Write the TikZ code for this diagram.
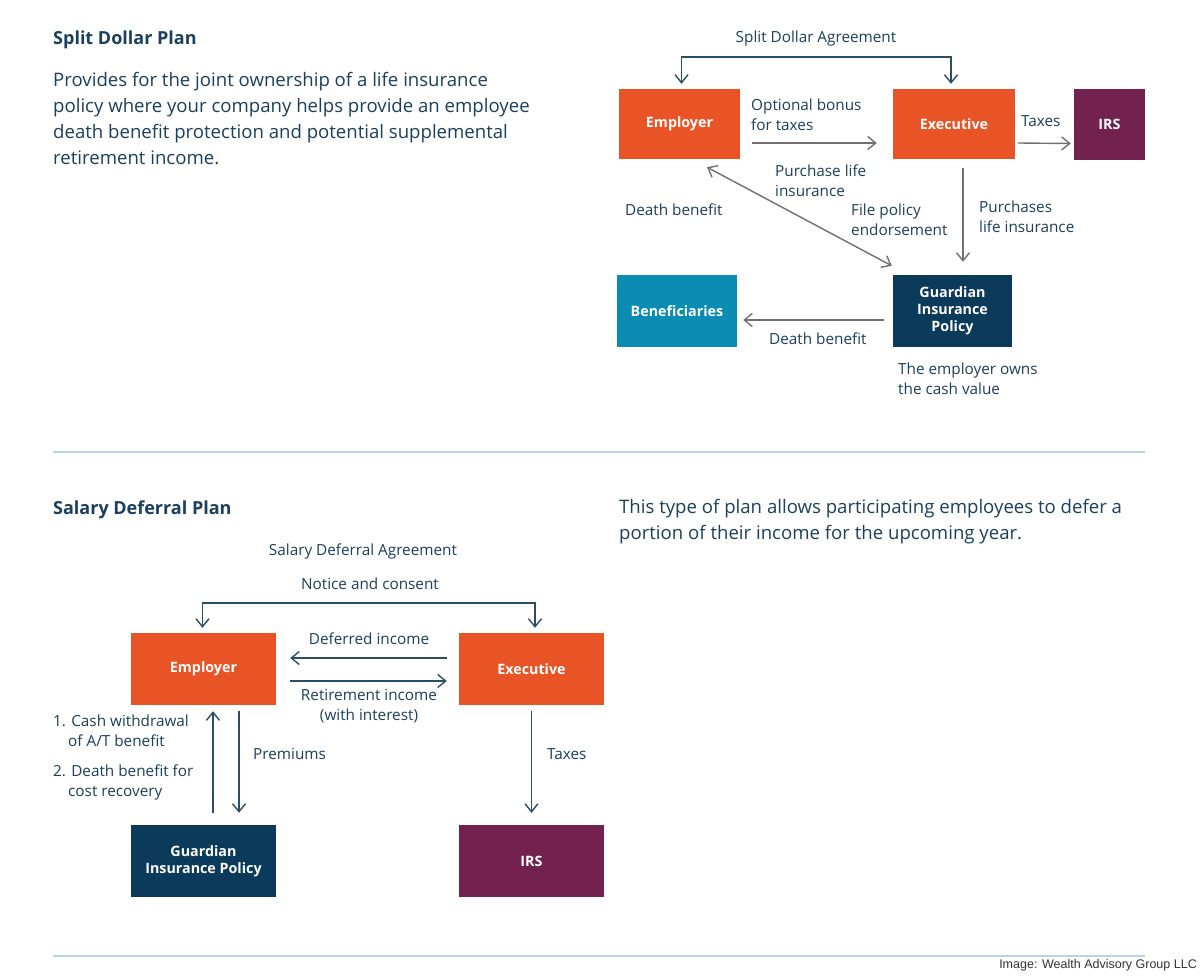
\documentclass[tikz,border=0pt]{standalone}
\usepackage{fontspec}
\setmainfont{Open Sans}
\newfontfamily\footfont{Liberation Sans}
\usetikzlibrary{arrows.meta,calc}
\definecolor{txt}{HTML}{1B3F5E}
\definecolor{orangebox}{HTML}{E85426}
\definecolor{purplebox}{HTML}{73224F}
\definecolor{tealbox}{HTML}{0A8CB3}
\definecolor{navybox}{HTML}{0C3A5B}
\definecolor{greyarrow}{HTML}{707070}
\definecolor{navyarrow}{HTML}{2B4E66}
\definecolor{sepline}{HTML}{B4D5E5}
\definecolor{foot}{HTML}{333333}
\begin{document}
\begin{tikzpicture}[x=1pt,y=-1pt,
  box/.style={rectangle, inner sep=0pt, align=center, text=white, font=\bfseries\fontsize{14.3}{17}\selectfont},
  lbl/.style={inner sep=0pt, align=left, text=txt, font=\fontsize{15.3}{20}\selectfont},
  para/.style={inner sep=0pt, align=left, text=txt, font=\fontsize{18.6}{26}\selectfont},
  ttl/.style={inner sep=0pt, anchor=west, text=txt, font=\bfseries\fontsize{18}{20}\selectfont},
  barb/.tip={Straight Barb[length=8pt,width=13pt]},
  garr/.style={draw=greyarrow, line width=1.4pt, -barb},
  garr2/.style={draw=greyarrow, line width=1.4pt, barb-barb},
  narr/.style={draw=navyarrow, line width=1.4pt, -barb},
  narr2/.style={draw=navyarrow, line width=1.4pt, barb-barb},
  sep/.style={draw=sepline, line width=2pt}]
\useasboundingbox (0,0) rectangle (1200,977);
\fill[white] (0,0) rectangle (1200,977);

% ---------- Split Dollar Plan ----------
\node[ttl] (t1) at (53,40) {Split Dollar Plan};
\node[para, anchor=north west] (p1) at (53,72) {Provides for the joint ownership of a life insurance\\policy where your company helps provide an employee\\death benefit protection and potential supplemental\\retirement income.};

\node[box, fill=orangebox, minimum width=121pt, minimum height=70pt] (emp) at (679.5,124) {Employer};
\node[box, fill=orangebox, minimum width=122pt, minimum height=70pt] (exe) at (954,124) {Executive};
\node[box, fill=purplebox, minimum width=71pt, minimum height=71pt] (irs) at (1109.5,124.5) {IRS};
\node[box, fill=tealbox, minimum width=120pt, minimum height=72pt] (ben) at (677,311) {Beneficiaries};
\node[box, fill=navybox, minimum width=119pt, minimum height=72pt] (gua) at (952.5,311) {Guardian\\Insurance\\Policy};

\node[lbl] (sda) at (816,39) {Split Dollar Agreement};
\draw[narr2] ($(emp.north)+(2,-5)$) |- ($(exe.north)+(-3,-32)$) -- ($(exe.north)+(-3,-5)$);

\draw[garr] ($(emp.east)+(12,19)$) -- ($(exe.west)+(-16,19)$);
\node[lbl, anchor=west] (ob) at (751,115) {Optional bonus\\for taxes};
\draw[garr] ($(exe.east)+(3,19)$) -- ($(irs.west)+(-3,19)$);
\node[lbl, anchor=west] (tx) at (1021,121) {Taxes};
\draw[garr2] ($(emp.south)+(27.5,8)$) -- ($(gua.north west)+(-1,-9)$);
\node[lbl, anchor=west] (pl) at (775,181) {Purchase life\\insurance};
\node[lbl, anchor=west] (db1) at (625,210) {Death benefit};
\node[lbl, anchor=west] (fp) at (851,220) {File policy\\endorsement};
\draw[garr] ($(exe.south)+(9,9)$) -- ($(gua.north)+(10.5,-13)$);
\node[lbl, anchor=west] (pli) at (979,217) {Purchases\\life insurance};
\draw[garr] ($(gua.west)+(-9,9)$) -- ($(ben.east)+(6,9)$);
\node[lbl, anchor=west] (db2) at (769,339) {Death benefit};
\node[lbl, anchor=west] (own) at (898,379) {The employer owns\\the cash value};

\draw[sep] (53,452) -- (1145,452);

% ---------- Salary Deferral Plan ----------
\node[ttl] (t2) at (53,510) {Salary Deferral Plan};
\node[para, anchor=north west] (p2) at (619,499) {This type of plan allows participating employees to defer a\\portion of their income for the upcoming year.};

\node[box, fill=orangebox, minimum width=145pt, minimum height=72pt] (emp2) at (203.5,669) {Employer};
\node[box, fill=orangebox, minimum width=145pt, minimum height=72pt] (exe2) at (531.5,669) {Executive};
\node[box, fill=navybox, minimum width=145pt, minimum height=72pt] (gua2) at (203.5,861) {Guardian\\Insurance Policy};
\node[box, fill=purplebox, minimum width=145pt, minimum height=72pt] (irs2) at (531.5,861) {IRS};

\node[lbl] (sdfa) at (363,551) {Salary Deferral Agreement};
\node[lbl] (nc) at (370,584) {Notice and consent};
\draw[narr2] ($(emp2.north)+(-1,-5)$) |- ($(exe2.north)+(3.5,-30)$) -- ($(exe2.north)+(3.5,-5)$);

\draw[narr] ($(exe2.west)+(-12,-11)$) -- ($(emp2.east)+(14,-11)$);
\node[lbl] (di) at (369,639) {Deferred income};
\draw[narr] ($(emp2.east)+(14,12)$) -- ($(exe2.west)+(-12,12)$);
\node[lbl, align=center] (ri) at (369,706.5) {Retirement income\\(with interest)};

\draw[narr] ($(gua2.north)+(9.5,-12)$) -- ($(emp2.south)+(9.5,6)$);
\draw[narr] ($(emp2.south)+(35.5,6)$) -- ($(gua2.north)+(35.5,-12)$);
\node[lbl, anchor=west] (pr) at (253,754) {Premiums};
\node[lbl, anchor=north west] (cw) at (53,715) {1. Cash withdrawal\\\hspace*{15pt}of A/T benefit};
\node[lbl, anchor=north west] (dbc) at (53,765) {2. Death benefit for\\\hspace*{15pt}cost recovery};

\draw[narr] ($(exe2.south)+(0,6)$) -- ($(irs2.north)+(0,-12)$);
\node[lbl, anchor=west] (tx2) at (547,754) {Taxes};

\draw[sep] (53,956) -- (1145,956);
\node[inner sep=0pt, anchor=east, text=foot, font=\footfont\fontsize{12.5}{14}\selectfont] (src) at (1197,965) {Image: Wealth Advisory Group LLC};
\end{tikzpicture}
\end{document}
